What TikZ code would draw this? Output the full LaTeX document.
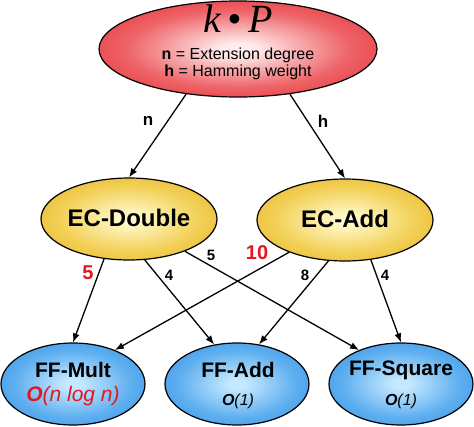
\documentclass[tikz,border=0pt]{standalone}
\usepackage{fontspec}
\setmainfont{Liberation Sans}
\newfontfamily\kpfont{Liberation Serif}
\usetikzlibrary{shapes.geometric,arrows.meta}
\definecolor{kpouter}{RGB}{224,22,30}
\definecolor{kpmid}{RGB}{238,100,104}
\definecolor{kpinner}{RGB}{255,236,236}
\definecolor{ecouter}{RGB}{222,168,24}
\definecolor{ecmid}{RGB}{242,208,86}
\definecolor{ecinner}{RGB}{255,248,200}
\definecolor{ffouter}{RGB}{34,132,226}
\definecolor{ffmid}{RGB}{96,176,240}
\definecolor{ffinner}{RGB}{196,232,255}
\definecolor{costred}{RGB}{226,24,30}
\pgfdeclareradialshading{kpglow}{\pgfpoint{0bp}{0bp}}{color(0bp)=(kpinner); color(3bp)=(kpinner); color(20bp)=(kpmid); color(40bp)=(kpouter); color(50bp)=(kpouter)}
\pgfdeclareradialshading{ecglow}{\pgfpoint{0bp}{0bp}}{color(0bp)=(ecinner); color(3bp)=(ecinner); color(20bp)=(ecmid); color(40bp)=(ecouter); color(50bp)=(ecouter)}
\pgfdeclareradialshading{ffglow}{\pgfpoint{0bp}{0bp}}{color(0bp)=(ffinner); color(3bp)=(ffinner); color(20bp)=(ffmid); color(40bp)=(ffouter); color(50bp)=(ffouter)}

\begin{document}
\begin{tikzpicture}[x=1pt,y=-1pt]
    \tikzstyle{every node}+=[inner sep=0pt]
    \tikzstyle{bubble}=[draw=black, line width=1.2pt, ellipse, shade]
    \tikzstyle{kpbubble}=[bubble, shading=kpglow, minimum width=278pt, minimum height=96pt]
    \tikzstyle{ecbubble}=[bubble, shading=ecglow, minimum width=176pt, minimum height=82pt]
    \tikzstyle{ffbubble}=[bubble, shading=ffglow, minimum width=144pt, minimum height=82pt]
    \tikzstyle{flow}=[draw=black, line width=1.3pt, -{Latex[length=9pt,width=7pt]}]
    \tikzstyle{weight}=[font=\bfseries\fontsize{15}{15}\selectfont]
    \tikzstyle{bigweight}=[font=\bfseries\fontsize{20}{20}\selectfont, text=costred]
    \tikzstyle{ectext}=[font=\bfseries\fontsize{24}{24}\selectfont]
    \tikzstyle{fftext}=[font=\bfseries\fontsize{21}{21}\selectfont]
    \useasboundingbox (0,0) rectangle (474,426);
    % operations
    \node [kpbubble] (kp) at (238,49) {};
    \node [ecbubble] (ecd) at (129,219) {};
    \node [ecbubble] (eca) at (345,220) {};
    \node [ffbubble] (ffm) at (73,384) {};
    \node [ffbubble] (ffa) at (237,384) {};
    \node [ffbubble] (ffs) at (401,384) {};
    % texts
    \node [font=\kpfont\itshape\fontsize{40}{40}\selectfont] (kptitle) at (238,19) {k\,•\,P};
    \node [align=center, font=\fontsize{16}{17}\selectfont] (kplegend) at (238,64) {\textbf{n} = Extension degree\\\textbf{h} = Hamming weight};
    \node [ectext] (ecdname) at (129,218) {EC-Double};
    \node [ectext] (ecaname) at (345,219) {EC-Add};
    \node [fftext] (ffmname) at (73,370) {FF-Mult};
    \node [fftext] (ffaname) at (238,370) {FF-Add};
    \node [fftext] (ffsname) at (401,370) {FF-Square};
    \node [font=\itshape\fontsize{21}{21}\selectfont, text=costred] (ffmcost) at (73,396) {\textbf{O}(n log n)};
    \node [font=\itshape\fontsize{16}{16}\selectfont] (ffacost) at (238,401) {\textbf{O}(1)};
    \node [font=\itshape\fontsize{16}{16}\selectfont] (ffscost) at (401,401) {\textbf{O}(1)};
    % connectors
    \draw [flow] (kp.-139) -- (ecd.north);
    \draw [flow] (kp.-41.5) -- (eca.north);
    \draw [flow] (ecd.-122) -- (ffm.north);
    \draw [flow] (ecd.-69) -- (ffa.120);
    \draw [flow] (ecd.-30) -- (ffs.141);
    \draw [flow] (eca.-150) -- (ffm.39);
    \draw [flow] (eca.-112) -- (ffa.61);
    \draw [flow] (eca.-57) -- (ffs.north);
    % weights
    \node [font=\bfseries\fontsize{17}{17}\selectfont] (nlabel) at (148,121) {n};
    \node [font=\bfseries\fontsize{17}{17}\selectfont] (hlabel) at (323,121) {h};
    \node [bigweight] (ecdffm) at (88,273) {5};
    \node [weight] (ecdffa) at (169,275) {4};
    \node [weight] (ecdffs) at (211,255) {5};
    \node [bigweight] (ecaffm) at (257,253) {10};
    \node [weight] (ecaffa) at (305,275) {8};
    \node [weight] (ecaffs) at (385,275) {4};
\end{tikzpicture}
\end{document}
